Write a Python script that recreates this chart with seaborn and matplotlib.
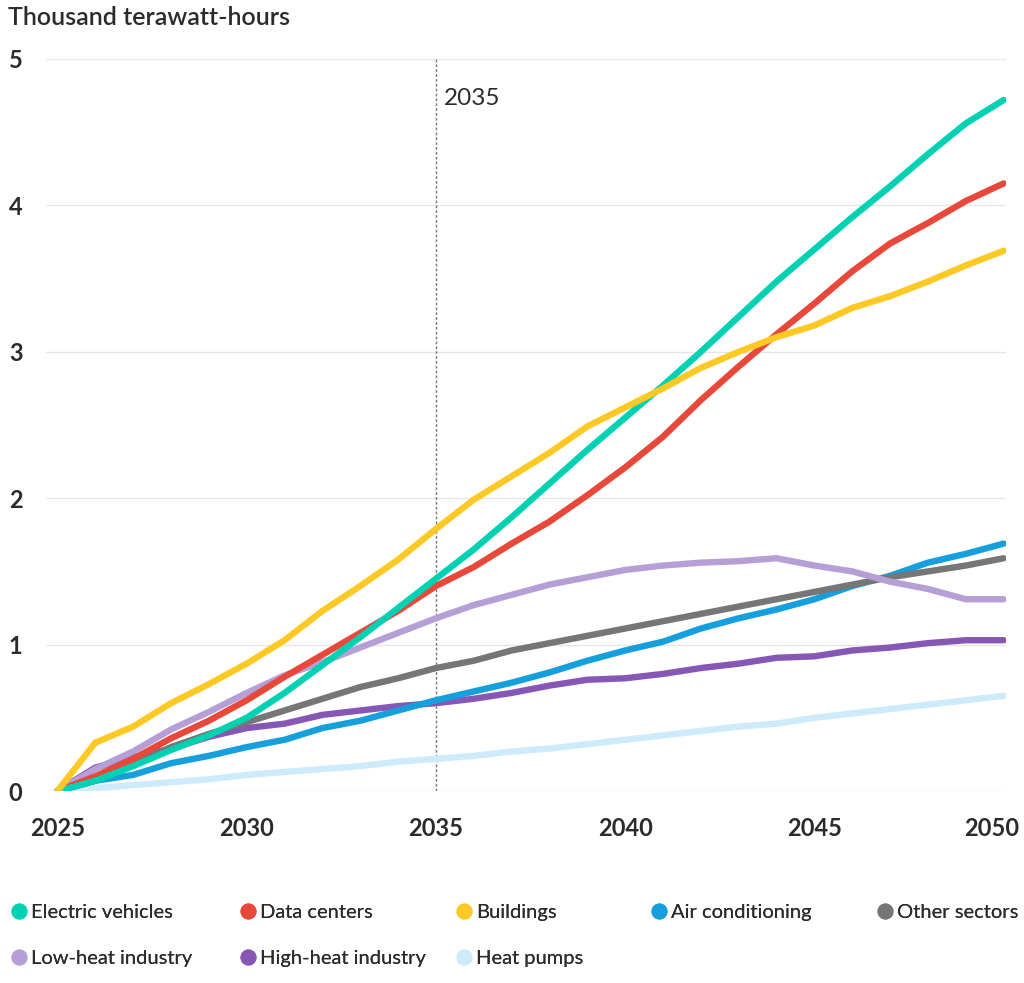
import numpy as np
import pandas as pd
import matplotlib
matplotlib.use("Agg")
import matplotlib.pyplot as plt
import matplotlib.transforms as mtransforms
from matplotlib.lines import Line2D
import seaborn as sns

years = list(range(2025, 2051))

electric_vehicles = [0, 0.07, 0.17, 0.28, 0.38, 0.50, 0.67, 0.86, 1.05, 1.25, 1.45, 1.65, 1.87, 2.10, 2.33,
                     2.55, 2.77, 3.00, 3.24, 3.48, 3.70, 3.92, 4.13, 4.35, 4.56, 4.72]
data_centers = [0, 0.10, 0.22, 0.36, 0.48, 0.62, 0.78, 0.93, 1.08, 1.23, 1.40, 1.53, 1.69, 1.84, 2.02,
                2.21, 2.42, 2.67, 2.90, 3.12, 3.33, 3.55, 3.74, 3.88, 4.03, 4.15]
buildings = [0, 0.33, 0.44, 0.60, 0.73, 0.87, 1.03, 1.23, 1.40, 1.58, 1.79, 1.99, 2.15, 2.31, 2.49,
             2.62, 2.75, 2.89, 3.00, 3.10, 3.18, 3.30, 3.38, 3.48, 3.59, 3.69]
air_conditioning = [0, 0.07, 0.11, 0.19, 0.24, 0.30, 0.35, 0.43, 0.48, 0.55, 0.62, 0.68, 0.74, 0.81, 0.89,
                    0.96, 1.02, 1.11, 1.18, 1.24, 1.31, 1.40, 1.47, 1.56, 1.62, 1.69]
other_sectors = [0, 0.07, 0.18, 0.30, 0.39, 0.47, 0.55, 0.63, 0.71, 0.77, 0.84, 0.89, 0.96, 1.01, 1.06,
                 1.11, 1.16, 1.21, 1.26, 1.31, 1.36, 1.41, 1.46, 1.50, 1.54, 1.59]
low_heat_industry = [0, 0.15, 0.27, 0.42, 0.54, 0.67, 0.79, 0.88, 0.98, 1.08, 1.18, 1.27, 1.34, 1.41, 1.46,
                     1.51, 1.54, 1.56, 1.57, 1.59, 1.54, 1.50, 1.43, 1.38, 1.31, 1.31]
high_heat_industry = [0, 0.16, 0.23, 0.29, 0.37, 0.43, 0.46, 0.52, 0.55, 0.58, 0.60, 0.63, 0.67, 0.72, 0.76,
                      0.77, 0.80, 0.84, 0.87, 0.91, 0.92, 0.96, 0.98, 1.01, 1.03, 1.03]
heat_pumps = [0, 0.02, 0.04, 0.06, 0.08, 0.11, 0.13, 0.15, 0.17, 0.20, 0.22, 0.24, 0.27, 0.29, 0.32,
              0.35, 0.38, 0.41, 0.44, 0.46, 0.50, 0.53, 0.56, 0.59, 0.62, 0.65]

series = {
    "Electric vehicles": electric_vehicles,
    "Data centers": data_centers,
    "Buildings": buildings,
    "Air conditioning": air_conditioning,
    "Other sectors": other_sectors,
    "Low-heat industry": low_heat_industry,
    "High-heat industry": high_heat_industry,
    "Heat pumps": heat_pumps,
}
colors = {
    "Electric vehicles": "#00D1B2",
    "Data centers": "#E8483A",
    "Buildings": "#FFC925",
    "Air conditioning": "#159FDD",
    "Other sectors": "#767676",
    "Low-heat industry": "#B59FD6",
    "High-heat industry": "#8757B5",
    "Heat pumps": "#CDEBFA",
}
# draw order: back to front
draw_order = ["Heat pumps", "High-heat industry", "Air conditioning", "Other sectors",
              "Low-heat industry", "Data centers", "Electric vehicles", "Buildings"]

df = pd.DataFrame(
    [(y, name, v) for name, vals in series.items() for y, v in zip(years, vals)],
    columns=["Year", "Sector", "Value"],
)

sns.set_style("white")
plt.rcParams["font.family"] = ["Lato", "DejaVu Sans"]
text_color = "#2b2b2b"

fig = plt.figure(figsize=(10.24, 9.83), dpi=100)
ax = fig.add_axes([0.045, 0.1953, 0.937, 0.7447])

for name in draw_order:
    sns.lineplot(data=df[df["Sector"] == name], x="Year", y="Value", color=colors[name],
                 linewidth=4.6, ax=ax, legend=False, solid_capstyle="round", solid_joinstyle="round")

ax.set_xlim(2024.7, 2050.05)
ax.set_ylim(0, 5)
ax.set_xticks([2025, 2030, 2035, 2040, 2045, 2050])
ax.set_yticks([0, 1, 2, 3, 4, 5])
ax.yaxis.grid(True, color="#E6E6E6", linewidth=1)
ax.set_axisbelow(True)
for s in ax.spines.values():
    s.set_visible(False)
ax.tick_params(axis="x", length=11, color="#E3E3E3", width=1, pad=8, labelsize=17, labelcolor=text_color)
ax.tick_params(axis="y", length=0, pad=17, labelsize=17, labelcolor=text_color)
for lab in ax.get_xticklabels() + ax.get_yticklabels():
    lab.set_fontweight("bold")
# keep the last year label inside the figure, as in the original
last = ax.get_xticklabels()[-1]
last.set_transform(last.get_transform() + mtransforms.ScaledTranslation(-12 / 100, 0, fig.dpi_scale_trans))
ax.set_xlabel("")
ax.set_ylabel("")

ax.axvline(2035, color="#777777", linestyle=(0, (2, 1.5)), linewidth=1, zorder=1)
ax.text(2035.2, 4.73, "2035", fontsize=17.5, color=text_color, va="center", ha="left")

fig.text(0.008, 0.982, "Thousand terawatt-hours", fontsize=18, color=text_color,
         fontweight="semibold", va="center", ha="left")

# legend laid out in columns, row-major like the original
legend_cols = [
    (0.008, ["Electric vehicles", "Low-heat industry"]),
    (0.231, ["Data centers", "High-heat industry"]),
    (0.442, ["Buildings", "Heat pumps"]),
    (0.633, ["Air conditioning"]),
    (0.853, ["Other sectors"]),
]
for x0, names in legend_cols:
    handles = [Line2D([], [], marker="o", linestyle="none", markersize=10.5,
                      markerfacecolor=colors[n], markeredgecolor=colors[n]) for n in names]
    leg = fig.legend(handles, names, loc="upper left", bbox_to_anchor=(x0, 0.080),
                     frameon=False, fontsize=14.5, handletextpad=0.05, labelspacing=1.4,
                     borderaxespad=0, borderpad=0, handlelength=1.1, labelcolor=text_color)
    fig.add_artist(leg)

fig.savefig("out.png", dpi=100)
